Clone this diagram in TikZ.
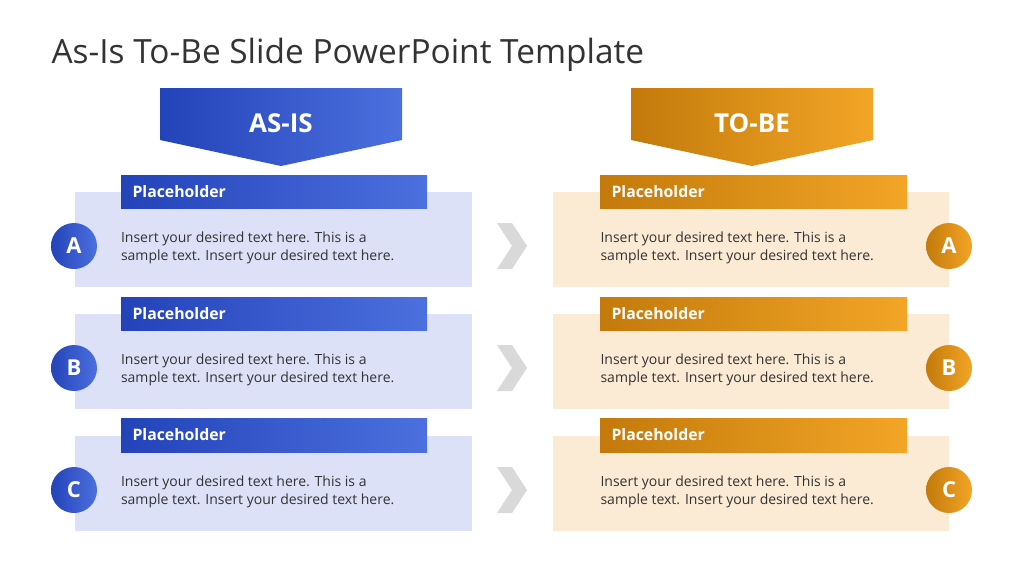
\documentclass[tikz,border=0pt]{standalone}
\usepackage{fontspec}
\setmainfont{Open Sans}
\usetikzlibrary{positioning}

\definecolor{asdark}{HTML}{2343B9}
\definecolor{aslight}{HTML}{4C70DE}
\definecolor{aspale}{HTML}{DCE1F7}
\definecolor{tbdark}{HTML}{C37A0B}
\definecolor{tblight}{HTML}{F2A526}
\definecolor{tbpale}{HTML}{FCEBD4}
\definecolor{chevgray}{HTML}{D9D9D9}
\definecolor{bodytext}{HTML}{333333}

\tikzset{
	asbar/.style={left color=asdark, right color=aslight},
	tbbar/.style={left color=tbdark, right color=tblight},
	barlabel/.style={anchor=west, text=white, font=\bfseries\fontsize{15.8}{18}\selectfont},
	bodylabel/.style={anchor=west, align=left, text=bodytext, font=\fontsize{14}{18}\selectfont},
	asdisc/.style={circle, minimum size=46pt, inner sep=0pt, text=white, font=\bfseries\fontsize{22}{26}\selectfont, shading=axis, shading angle=45, left color=asdark, right color=aslight},
	tbdisc/.style={circle, minimum size=46pt, inner sep=0pt, text=white, font=\bfseries\fontsize{22}{26}\selectfont, shading=axis, shading angle=45, left color=tbdark, right color=tblight},
	headlabel/.style={text=white, font=\bfseries\fontsize{26}{30}\selectfont}
}

\begin{document}
\begin{tikzpicture}[x=1pt, y=-1pt]
	\useasboundingbox[fill=white] (0,0) rectangle (1024,576);

	% title
	\node (title) at (48,55) [anchor=west, text=bodytext, font=\fontsize{33.4}{38}\selectfont] {As-Is To-Be Slide PowerPoint Template};

	% banners
	\shade[asbar] (160,88) -- (402,88) -- (402,140) -- (281,166) -- (160,140) -- cycle;
	\shade[tbbar] (631,88) -- (873,88) -- (873,140) -- (752,166) -- (631,140) -- cycle;
	\node (asis) at (281,123) [headlabel] {AS-IS};
	\node (tobe) at (752,123) [headlabel] {TO-BE};

	% pale boxes
	\fill[aspale] (75,192) rectangle (472,287);
	\fill[aspale] (75,314) rectangle (472,409);
	\fill[aspale] (75,436) rectangle (472,531);
	\fill[tbpale] (553,192) rectangle (949,287);
	\fill[tbpale] (553,314) rectangle (949,409);
	\fill[tbpale] (553,436) rectangle (949,531);

	% placeholder bars
	\shade[asbar] (121,175) rectangle (427,208);
	\shade[asbar] (121,297) rectangle (427,330);
	\shade[asbar] (121,418) rectangle (427,452);
	\shade[tbbar] (600,175) rectangle (907,208);
	\shade[tbbar] (600,297) rectangle (907,330);
	\shade[tbbar] (600,418) rectangle (907,452);

	\node (asbar1) at (129,191.5) [barlabel] {Placeholder};
	\node (asbar2) at (129,313.5) [barlabel] {Placeholder};
	\node (asbar3) at (129,435) [barlabel] {Placeholder};
	\node (tbbar1) at (608,191.5) [barlabel] {Placeholder};
	\node (tbbar2) at (608,313.5) [barlabel] {Placeholder};
	\node (tbbar3) at (608,435) [barlabel] {Placeholder};

	% body texts
	\node (astext1) at (117.5,247.5) [bodylabel] {Insert your desired text here. This is a\\sample text. Insert your desired text here.};
	\node (astext2) at (117.5,369.5) [bodylabel] {Insert your desired text here. This is a\\sample text. Insert your desired text here.};
	\node (astext3) at (117.5,491.5) [bodylabel] {Insert your desired text here. This is a\\sample text. Insert your desired text here.};
	\node (tbtext1) at (597,247.5) [bodylabel] {Insert your desired text here. This is a\\sample text. Insert your desired text here.};
	\node (tbtext2) at (597,369.5) [bodylabel] {Insert your desired text here. This is a\\sample text. Insert your desired text here.};
	\node (tbtext3) at (597,491.5) [bodylabel] {Insert your desired text here. This is a\\sample text. Insert your desired text here.};

	% letter discs
	\node (asA) at (74,246) [asdisc] {A};
	\node (asB) at (74,368) [asdisc] {B};
	\node (asC) at (74,490) [asdisc] {C};
	\node (tbA) at (949,246) [tbdisc] {A};
	\node (tbB) at (949,368) [tbdisc] {B};
	\node (tbC) at (949,490) [tbdisc] {C};

	% chevrons
	\fill[chevgray] (497,223) -- (512,223) -- (527,246) -- (512,269) -- (497,269) -- (512,246) -- cycle;
	\fill[chevgray] (497,345) -- (512,345) -- (527,368) -- (512,391) -- (497,391) -- (512,368) -- cycle;
	\fill[chevgray] (497,467) -- (512,467) -- (527,490) -- (512,513) -- (497,513) -- (512,490) -- cycle;
\end{tikzpicture}
\end{document}
